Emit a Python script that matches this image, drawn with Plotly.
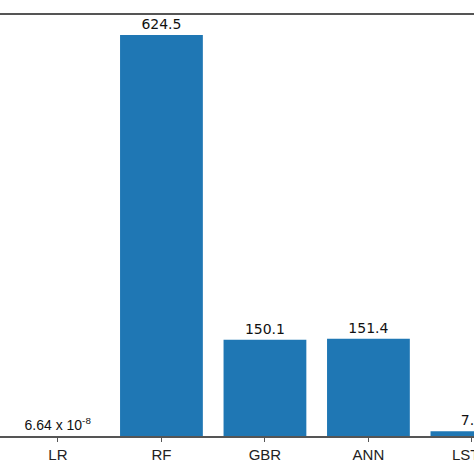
import plotly.graph_objects as go

# model names and their values
models = ["LR", "RF", "GBR", "ANN", "LSTM"]
values = [6.64e-8, 624.5, 150.1, 151.4, 7.4]
labels = ["6.64 x 10<sup>-8</sup>", "624.5", "150.1", "151.4", "7.4"]

fig = go.Figure()
fig.add_trace(go.Bar(
    x=list(range(len(models))),
    y=values,
    text=labels,
    textposition="outside",
    constraintext="none",
    cliponaxis=False,
    textfont=dict(
        family=["Liberation Sans"] + ["DejaVu Sans"] * 4,
        size=14,
        color="#111111",
    ),
    marker=dict(color="#1f77b4", line=dict(width=0)),
    width=0.8,
))

fig.update_layout(
    width=474, height=474,
    margin=dict(l=0, r=0, t=15, b=38, autoexpand=False),
    plot_bgcolor="white", paper_bgcolor="white",
    showlegend=False,
    font=dict(family="Liberation Sans", size=15, color="#222222"),
)
fig.update_xaxes(
    range=[-0.56, 4.02],
    tickmode="array", tickvals=list(range(len(models))), ticktext=models,
    ticklabeloverflow="allow", automargin=False,
    showline=True, linecolor="#555555", linewidth=1.6, mirror=True,
    ticks="outside", ticklen=4, tickcolor="#555555", tickwidth=1.2,
    showgrid=False, zeroline=False,
)
fig.update_yaxes(range=[0, 655.7], visible=False, showgrid=False, zeroline=False)

# the html page has a default body margin, drop it so the figure sits at 0,0
fig.write_html("out.html", config={"displayModeBar": False},
               post_script="document.body.style.margin='0';")
